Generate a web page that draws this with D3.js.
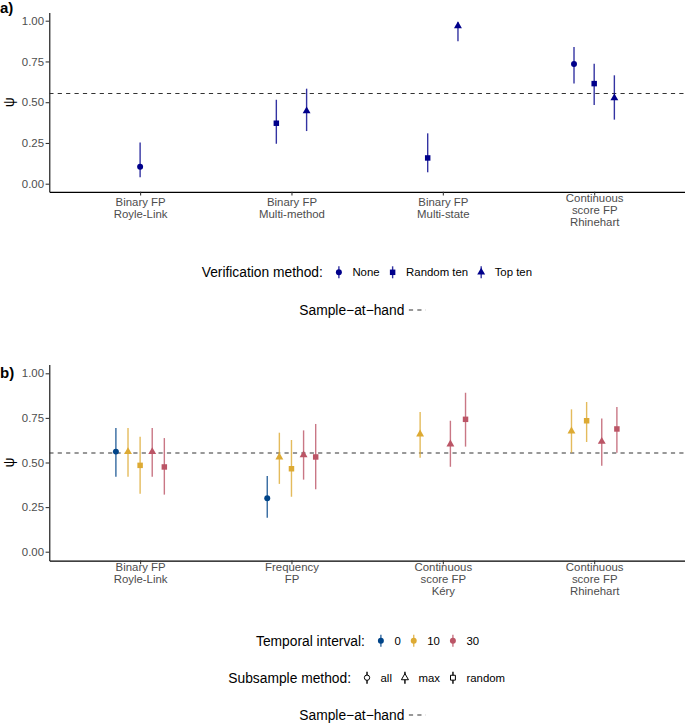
<!DOCTYPE html>
<html><head><meta charset="utf-8">
<script src="https://cdn.jsdelivr.net/npm/d3@7"></script>
<style>
body{margin:0;background:#fff}
text{font-family:"Liberation Sans",Arial,Helvetica,sans-serif}
</style>
</head><body>
<svg id="chart" width="685" height="724"></svg>
<script>
// ---------------- DATA ----------------
const categoriesA = ["Binary FP\nRoyle-Link", "Binary FP\nMulti-method", "Binary FP\nMulti-state", "Continuous\nscore FP\nRhinehart"];
const verificationLevels = ["None", "Random ten", "Top ten"];
const aCat    = [0, 1, 1, 2, 2, 3, 3, 3];
const aMethod = ["None", "Random ten", "Top ten", "Random ten", "Top ten", "None", "Random ten", "Top ten"];
const aEst    = [0.104, 0.371, 0.446, 0.158, 0.968, 0.734, 0.614, 0.526];
const aLow    = [0.039, 0.245, 0.323, 0.070, 0.874, 0.614, 0.483, 0.393];
const aHigh   = [0.252, 0.515, 0.583, 0.309, 0.990, 0.839, 0.736, 0.665];

const categoriesB = ["Binary FP\nRoyle-Link", "Frequency\nFP", "Continuous\nscore FP\nKéry", "Continuous\nscore FP\nRhinehart"];
const intervalLevels = ["0", "10", "30"];
const subsampleLevels = ["all", "max", "random"];
const bCat       = [0, 0, 0, 0, 0, 1, 1, 1, 1, 1, 2, 2, 2, 2, 3, 3, 3, 3];
const bInterval  = ["0","10","10","30","30", "0","10","10","30","30", "10","10","30","30", "10","10","30","30"];
const bSubsample = ["all","max","random","max","random", "all","max","random","max","random", "max","random","max","random", "max","random","max","random"];
const bEst  = [0.561, 0.560, 0.484, 0.560, 0.475, 0.299, 0.530, 0.465, 0.542, 0.531, 0.659, null, 0.603, 0.742, 0.676, 0.734, 0.618, 0.688];
const bLow  = [0.420, 0.420, 0.325, 0.420, 0.320, 0.191, 0.380, 0.308, 0.404, 0.350, 0.527, null, 0.476, 0.589, 0.555, 0.615, 0.482, 0.555];
const bHigh = [0.693, 0.693, 0.645, 0.693, 0.637, 0.424, 0.667, 0.626, 0.680, 0.716, 0.783, null, 0.734, 0.891, 0.798, 0.839, 0.746, 0.811];

const sampleAtHand = 0.553;
const yTicks = [0, 0.25, 0.5, 0.75, 1];

// ---------------- STYLE ----------------
const navy = "#00008B";
const intervalColors = ["#004488", "#DDAA33", "#BB5566"];
const shapeOf = {"None": d3.symbolCircle, "Random ten": d3.symbolSquare, "Top ten": d3.symbolTriangle,
                 "all": d3.symbolCircle, "max": d3.symbolTriangle, "random": d3.symbolSquare};
const sizeOf = sh => sh === d3.symbolCircle ? 28 : sh === d3.symbolSquare ? 30 : 27;

const svg = d3.select("#chart");
const plotLeft = 49.3, plotRight = 685;

function buildRows(cats, ests, lows, highs, extra) {
  const rows = cats.map((c, i) => Object.assign({cat: c, est: ests[i], low: lows[i], high: highs[i]}, extra(i)));
  const counts = d3.rollup(rows, v => v.length, d => d.cat);
  const seen = new Map();
  rows.forEach(r => { const k = seen.get(r.cat) || 0; r.slot = k; r.n = counts.get(r.cat); seen.set(r.cat, k + 1); });
  return rows;
}

function drawPanel(cfg) {
  const g = svg.append("g");
  const x = d3.scalePoint().domain(cfg.categories).range([plotLeft, plotRight]).padding(0.6);
  const y = d3.scaleLinear().domain([-0.05, 1.05]).range(cfg.yRange);
  const dodgeW = 0.4 * x.step();
  const xPos = r => x(cfg.categories[r.cat]) + (r.slot - (r.n - 1) / 2) * dodgeW / r.n;

  // y axis
  const ya = g.append("g").attr("transform", `translate(${plotLeft},0)`)
    .call(d3.axisLeft(y).tickValues(yTicks).tickFormat(d3.format(".2f")).tickSize(3.7).tickSizeOuter(0).tickPadding(1.6));
  // x axis
  const xa = g.append("g").attr("transform", `translate(0,${cfg.yRange[0]})`)
    .call(d3.axisBottom(x).tickSize(3.7).tickSizeOuter(0));
  [ya, xa].forEach(a => {
    a.select(".domain").attr("stroke", "#000").attr("stroke-width", 1.07);
    a.selectAll(".tick line").attr("stroke", "#333").attr("stroke-width", 1.07);
    a.selectAll(".tick text").attr("fill", "#4D4D4D").attr("font-size", 11.4);
  });
  const lineH = 11.8;
  const maxLines = d3.max(cfg.categories, c => c.split("\n").length);
  xa.selectAll(".tick text").each(function(d) {
    const lines = d.split("\n");
    const t = d3.select(this).text(null).attr("dy", null)
      .attr("y", 14.2 - 3.7 + (maxLines - lines.length) * lineH * cfg.vjust);
    lines.forEach((ln, i) => t.append("tspan").attr("x", 0).attr("dy", i === 0 ? 0 : lineH).text(ln));
  });

  // y title
  g.append("text").attr("transform", `translate(13.5,${y(0.5)}) rotate(-90)`)
    .attr("text-anchor", "middle").attr("font-size", 14).attr("fill", "#000").text("ψ");
  // panel tag
  g.append("text").attr("x", 0).attr("y", cfg.tagY).attr("font-size", 15).attr("font-weight", "bold").text(cfg.tag);

  // reference line
  g.append("line").attr("x1", plotLeft).attr("x2", plotRight)
    .attr("y1", y(sampleAtHand)).attr("y2", y(sampleAtHand))
    .attr("stroke", "#333").attr("stroke-width", 1.1).attr("stroke-dasharray", "4.2,4.2");

  const rows = cfg.rows.filter(r => r.est != null);
  g.selectAll(".err").data(rows).join("line")
    .attr("x1", xPos).attr("x2", xPos).attr("y1", r => y(r.low)).attr("y2", r => y(r.high))
    .attr("stroke", r => r.color).attr("stroke-opacity", 0.8).attr("stroke-width", 1.4);
  g.selectAll(".pt").data(rows).join("path")
    .attr("transform", r => `translate(${xPos(r)},${y(r.est)})`)
    .attr("d", r => d3.symbol().type(r.shape).size(sizeOf(r.shape))())
    .attr("fill", r => r.color);
}

function drawLegend(cy, titleX, title, items) {
  const g = svg.append("g");
  const t = g.append("text").attr("x", titleX).attr("y", cy + 4.8).attr("font-size", 13.8).attr("fill", "#000").text(title);
  let kx = titleX + t.node().getComputedTextLength();
  if (items === "dash") {
    g.append("line").attr("x1", kx + 4.5).attr("x2", kx + 21.5).attr("y1", cy).attr("y2", cy)
      .attr("stroke", "#333").attr("stroke-width", 1.1).attr("stroke-dasharray", "4.2,4.2");
    return;
  }
  kx += 16;
  items.forEach(it => {
    g.append("line").attr("x1", kx).attr("x2", kx).attr("y1", cy - 6).attr("y2", cy + 6)
      .attr("stroke", it.color).attr("stroke-width", 1.4).attr("stroke-opacity", it.open ? 1 : 0.8);
    g.append("path").attr("transform", `translate(${kx},${cy})`)
      .attr("d", d3.symbol().type(it.shape).size(sizeOf(it.shape) * (it.open ? 0.8 : 1))())
      .attr("fill", it.open ? "#fff" : it.color).attr("stroke", it.open ? it.color : "none").attr("stroke-width", 1);
    const lt = g.append("text").attr("x", kx + 13.5).attr("y", cy + 4).attr("font-size", 11.4).attr("fill", "#000").text(it.label);
    kx += 13.5 + lt.node().getComputedTextLength() + 13;
  });
}

// ---------------- PANEL A ----------------
const rowsA = buildRows(aCat, aEst, aLow, aHigh, i => ({color: navy, shape: shapeOf[aMethod[i]]}));
drawPanel({categories: categoriesA, rows: rowsA, yRange: [191.85, 12.55], vjust: 0.29, tag: "a)", tagY: 13});
drawLegend(272.3, 201.7, "Verification method:", verificationLevels.map(v => ({label: v, color: navy, shape: shapeOf[v]})));
drawLegend(310, 299.3, "Sample\u2212at\u2212hand", "dash");

// ---------------- PANEL B ----------------
const rowsB = buildRows(bCat, bEst, bLow, bHigh, i => ({color: intervalColors[intervalLevels.indexOf(bInterval[i])], shape: shapeOf[bSubsample[i]]}));
drawPanel({categories: categoriesB, rows: rowsB, yRange: [560.62, 364.38], vjust: 0, tag: "b)", tagY: 378});
drawLegend(640.7, 256, "Temporal interval:", intervalLevels.map((v, i) => ({label: v, color: intervalColors[i], shape: d3.symbolCircle})));
drawLegend(677.7, 228.3, "Subsample method:", subsampleLevels.map(v => ({label: v, color: "#000", shape: shapeOf[v], open: true})));
drawLegend(715, 299.3, "Sample\u2212at\u2212hand", "dash");
</script>
</body></html>
